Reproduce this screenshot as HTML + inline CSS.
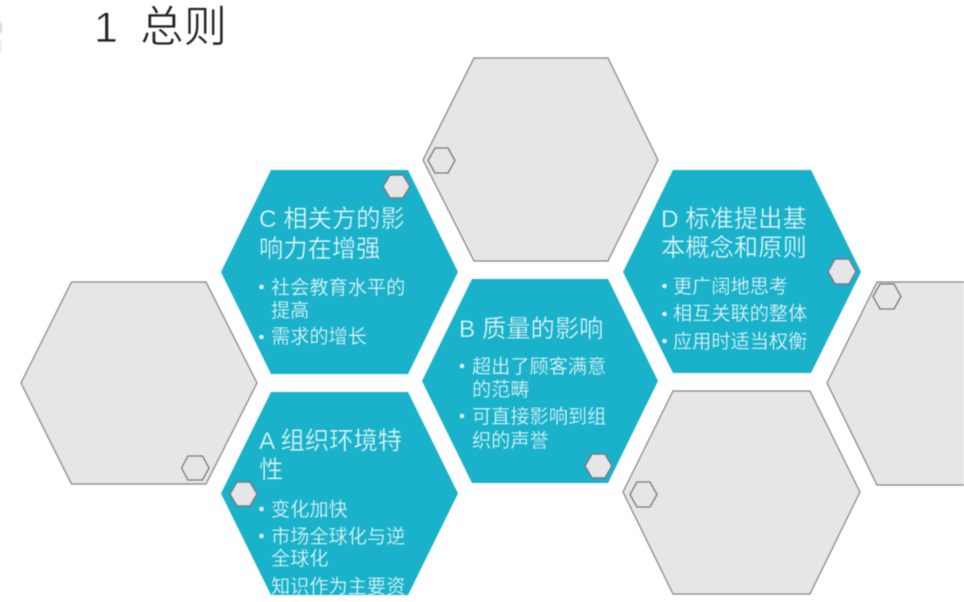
<!DOCTYPE html>
<html lang="zh">
<head>
<meta charset="utf-8">
<style>
html,body{margin:0;padding:0;background:#fff;width:964px;height:602px;overflow:hidden}
svg{display:block;position:absolute;left:0;top:0;filter:blur(0.45px)}
text{font-family:"Liberation Sans","Noto Sans CJK SC",sans-serif}
.h{font-size:24.300px;fill:#e8f8fa;stroke:#1ab1ca;stroke-width:.35px}
.b{font-size:19.200px;fill:#e8f8fa;stroke:#1ab1ca;stroke-width:.25px}
.ti{fill:#222;stroke:#fff;stroke-width:.7px}
.t{fill:#1ab1ca}
.g{fill:#e6e6e7;stroke:#7f848b;stroke-width:1.200}
.s{fill:#e6e6e7;stroke:#6f7c88;stroke-width:1.400}
.n{fill:none;stroke:#747a82;stroke-width:1.300}
circle{fill:#e6f6f9}
</style>
</head>
<body>
<svg width="964" height="602" viewBox="0 0 964 602" xmlns="http://www.w3.org/2000/svg">
<defs>
<clipPath id="ca"><polygon points="221,493.500 271,392 408,392 458,493.500 408,595 271,595"/></clipPath>
</defs>

<path d="M0 20 L2 25 L2 32 L0 34 Z" fill="#d5d5d5"/>
<path d="M0 40 L1 42 L1 52 L0 52 Z" fill="#dddddd"/>

<text class="ti" x="94" y="42" font-size="43">1</text>
<text class="ti" x="140" y="42" font-size="43.500">总则</text>

<!-- grey hexagons -->
<polygon class="g" points="423,160 474,58 608,58 658,160 608,261 474,261"/>
<polygon class="g" points="21,383 71.500,282 206,282 257,383 206,484 71.500,484"/>
<polygon class="g" points="623,492 673,391 810,391 860,492 810,594 673,594"/>
<polygon class="g" points="827,383 877,282 970,282 970,485 877,485"/>

<!-- teal hexagons -->
<polygon class="t" points="221,272 271,170 408,170 458,272 408,374 271,374"/>
<polygon class="t" points="221,493.500 271,392 408,392 458,493.500 408,595 271,595"/>
<polygon class="t" points="422,381 472,279 608,279 658,381 608,483 472,483"/>
<polygon class="t" points="623,272 673,170 811,170 861,272 811,373 673,373"/>

<!-- small hexagons -->
<polygon class="s" points="383,186.500 390,175 403,175 410,186.500 403,198 390,198"/>
<polygon class="n" points="428,160.500 435,148 448,148 455,160.500 448,173 435,173"/>
<polygon class="s" points="828,271.500 835,259 849,259 856,271.500 849,284 835,284"/>
<polygon class="n" points="873,296.500 880,284 894,284 901,296.500 894,309 880,309"/>
<polygon class="n" points="181.500,468 188,456 202.500,456 209,468 202.500,480 188,480"/>
<polygon class="s" points="230,494 237,482 250,482 257,494 250,506 237,506"/>
<polygon class="s" points="585,466 592,454 605,454 612,466 605,478 592,478"/>
<polygon class="n" points="630,494.500 637,482 650,482 657,494.500 650,507 637,507"/>

<!-- C -->
<text class="h" x="259" y="227">C 相关方的影</text>
<text class="h" x="259" y="257">响力在增强</text>
<circle cx="261.500" cy="287" r="2.300"/>
<text class="b" x="271" y="294">社会教育水平的</text>
<text class="b" x="271" y="317">提高</text>
<circle cx="261.500" cy="337" r="2.300"/>
<text class="b" x="271" y="343">需求的增长</text>

<!-- A -->
<text class="h" x="259" y="449">A 组织环境特</text>
<text class="h" x="259" y="478">性</text>
<circle cx="261.500" cy="509" r="2.300"/>
<text class="b" x="271" y="516">变化加快</text>
<circle cx="261.500" cy="536" r="2.300"/>
<text class="b" x="271" y="543">市场全球化与逆</text>
<text class="b" x="271" y="565">全球化</text>
<g clip-path="url(#ca)"><text class="b" x="271" y="593">知识作为主要资</text></g>

<!-- B -->
<text class="h" x="459" y="337">B 质量的影响</text>
<circle cx="462" cy="366" r="2.300"/>
<text class="b" x="472" y="373">超出了顾客满意</text>
<text class="b" x="472" y="396">的范畴</text>
<circle cx="462" cy="416" r="2.300"/>
<text class="b" x="472" y="423">可直接影响到组</text>
<text class="b" x="472" y="447">织的声誉</text>

<!-- D -->
<text class="h" x="661" y="227">D 标准提出基</text>
<text class="h" x="661" y="256">本概念和原则</text>
<circle cx="664.500" cy="286" r="2.300"/>
<text class="b" x="673" y="293">更广阔地思考</text>
<circle cx="664.500" cy="314" r="2.300"/>
<text class="b" x="673" y="320">相互关联的整体</text>
<circle cx="664.500" cy="341" r="2.300"/>
<text class="b" x="673" y="348">应用时适当权衡</text>
</svg>
</body>
</html>
